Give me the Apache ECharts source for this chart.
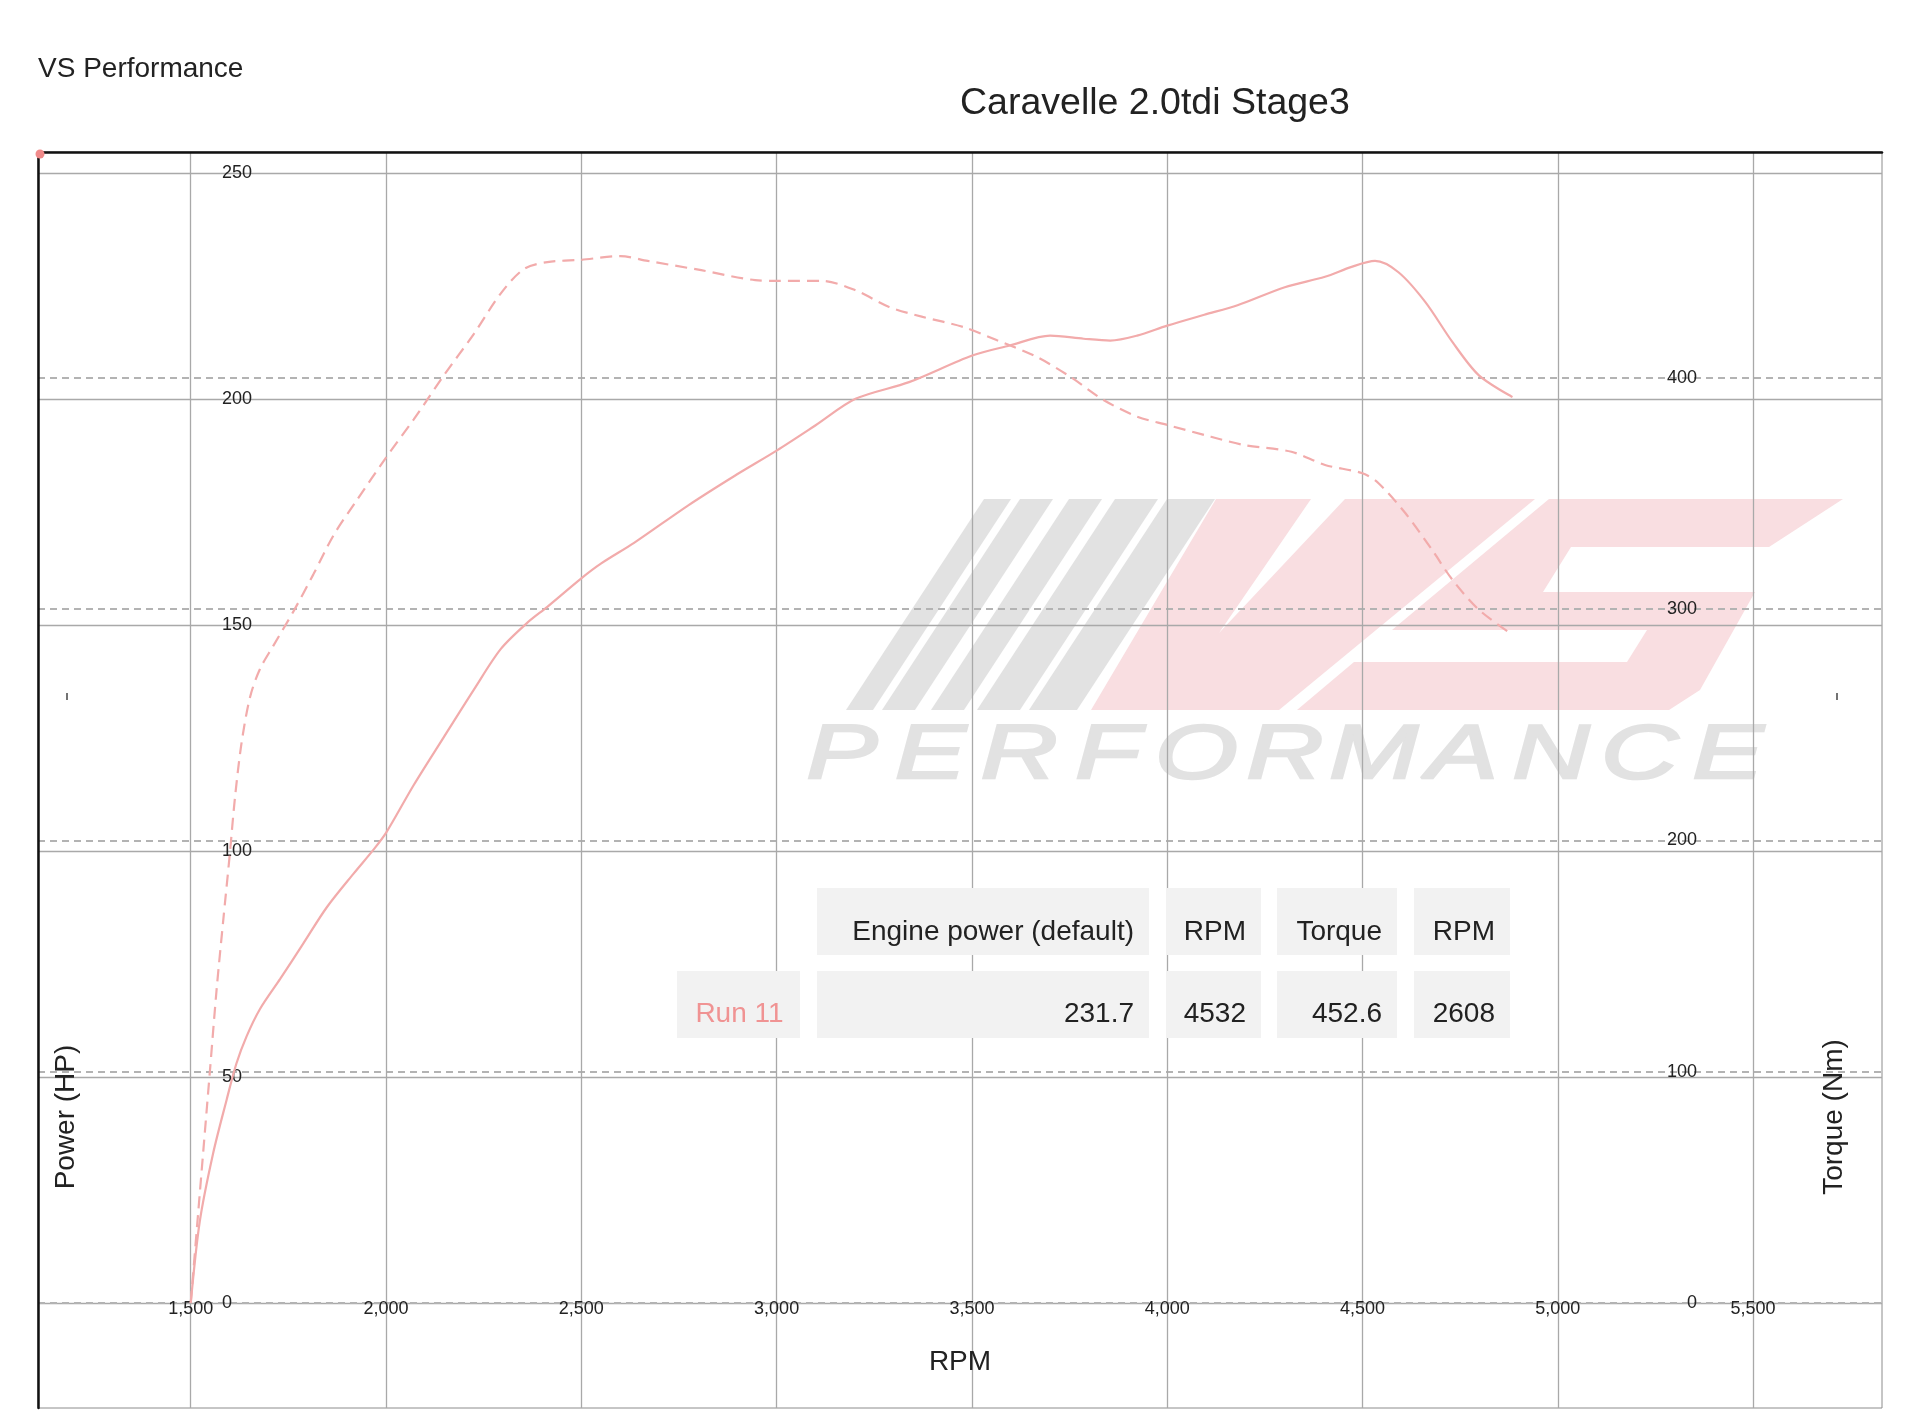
<!DOCTYPE html>
<html>
<head>
<meta charset="utf-8">
<script src="https://cdn.jsdelivr.net/npm/echarts@6/dist/echarts.min.js"></script>
<style>
html,body{margin:0;padding:0;background:#fff;}
#chart{width:1920px;height:1415px;}
</style>
</head>
<body>
<div id="chart"></div>
<script>
// ---------------- data ----------------
const brandTitle = 'VS Performance';
const chartTitle = 'Caravelle 2.0tdi Stage3';
const xAxisName = 'RPM';
const powerAxisName = 'Power (HP)';
const torqueAxisName = 'Torque (Nm)';

const rpmTicks = [1500, 2000, 2500, 3000, 3500, 4000, 4500, 5000, 5500];
const powerTicks = [0, 50, 100, 150, 200, 250];
const torqueTicks = [0, 100, 200, 300, 400];

const rpmRange = [1109, 5830];
const powerRange = [-23.2, 254.6];
const torqueRange = [-45.4, 497.6];

const powerRpm = [1500, 1523, 1557, 1592, 1617, 1643, 1677, 1729, 1788, 1848, 1917, 1968, 2000, 2071, 2148, 2225, 2294, 2362, 2413, 2500, 2551, 2636, 2773, 2893, 3001, 3099, 3202, 3339, 3501, 3597, 3700, 3786, 3854, 3923, 4000, 4095, 4180, 4301, 4404, 4472, 4532, 4592, 4661, 4730, 4798, 4884];
const powerHp  = [0, 18, 33, 45, 53, 59, 65, 71.7, 79.5, 87.5, 95, 100.3, 104, 114.6, 125.2, 135.7, 144.7, 150.5, 154, 160.3, 163.6, 168.2, 176.4, 183, 188.6, 194.1, 200, 203.7, 209.6, 211.8, 214, 213.3, 212.9, 214, 216.2, 218.6, 220.7, 224.7, 227, 229.2, 230.5, 228, 221.4, 212.6, 205.2, 200.4];

const torqueRpm = [1500, 1523, 1549, 1566, 1583, 1600, 1613, 1630, 1652, 1677, 1711, 1763, 1814, 1866, 1925, 2000, 2071, 2148, 2225, 2294, 2353, 2413, 2500, 2600, 2670, 2807, 2945, 3001, 3116, 3202, 3288, 3374, 3477, 3563, 3666, 3752, 3837, 3923, 4000, 4112, 4198, 4318, 4404, 4500, 4541, 4610, 4678, 4730, 4798, 4884];
const torqueNm  = [0, 47, 100, 135, 165, 194, 218, 242, 262, 274, 284, 299, 315, 332, 347, 365.5, 382, 401, 419, 436.5, 447, 450, 451, 452.6, 450.5, 446.5, 442.2, 441.9, 441.9, 437.8, 430.6, 426.3, 422, 416.3, 409, 400.4, 390.4, 383.2, 379.6, 374.5, 370.9, 368, 362.3, 358.7, 354.4, 341.4, 325.6, 312.7, 299.7, 288.9];

const tableHeaders = ['Engine power (default)', 'RPM', 'Torque', 'RPM'];
const runLabel = 'Run 11';
const runValues = ['231.7', '4532', '452.6', '2608'];

const watermarkWord = 'PERFORMANCE';

// ---------------- style / layout ----------------
const FONT = "'Liberation Sans', Arial, Helvetica, sans-serif";
const LINE = '#f2abab';
const RUN_TEXT = '#f09393';
const GRID_SOLID = '#a9a9a9';
const GRID_DASH = '#b3b3b3';
const CELL = '#f2f2f2';
const WM_GRAY = '#e2e2e2';
const WM_PINK = '#f9dee1';

const tableCols = [[817, 1149], [1167, 1261], [1277, 1397], [1414, 1510]];
const runCol = [677, 800];
const headerRow = [888, 955];
const valueRow = [971, 1038];

const graphics = [];

// watermark stripes
const stripeTops = [[984, 1011], [1020, 1053], [1069, 1102], [1115, 1158], [1167, 1215]];
const wmTop = 499, wmBottom = 710, stripeShift = 138;
stripeTops.forEach(function (s) {
  graphics.push({
    type: 'polygon', z: -5, silent: true,
    shape: { points: [[s[0], wmTop], [s[1], wmTop], [s[1] - stripeShift, wmBottom], [s[0] - stripeShift, wmBottom]] },
    style: { fill: WM_GRAY }
  });
});
// V
graphics.push({
  type: 'polygon', z: -5, silent: true,
  shape: { points: [[1216, 499], [1311, 499], [1219, 633], [1345, 499], [1535, 499], [1279, 710], [1091, 710]] },
  style: { fill: WM_PINK }
});
// S
graphics.push({
  type: 'polygon', z: -5, silent: true,
  shape: { points: [[1549, 499], [1843, 499], [1769, 547], [1571, 547], [1543, 592], [1755, 592], [1700, 690], [1669, 710], [1297, 710], [1354, 662], [1627, 662], [1647, 630], [1392, 630]] },
  style: { fill: WM_PINK }
});
// PERFORMANCE, letter by letter
watermarkWord.split('').forEach(function (ch, i) {
  graphics.push({
    type: 'text', z: -5, silent: true,
    x: 842 + i * 88.6, y: 757, scaleX: 1.4,
    style: { text: ch, font: 'italic 76px ' + FONT, fill: WM_GRAY, stroke: WM_GRAY, lineWidth: 2.5,
             align: 'center', textAlign: 'center', verticalAlign: 'middle', textVerticalAlign: 'middle' }
  });
});

// table
tableHeaders.forEach(function (h, i) {
  const c = tableCols[i];
  graphics.push({ type: 'rect', z: 20, shape: { x: c[0], y: headerRow[0], width: c[1] - c[0], height: headerRow[1] - headerRow[0] }, style: { fill: CELL } });
  graphics.push({ type: 'text', z: 21, x: c[1] - 15, y: headerRow[0] + 44,
    style: { text: h, font: '28px ' + FONT, fill: '#222', align: 'right', textAlign: 'right', verticalAlign: 'middle', textVerticalAlign: 'middle' } });
});
runValues.forEach(function (v, i) {
  const c = tableCols[i];
  graphics.push({ type: 'rect', z: 20, shape: { x: c[0], y: valueRow[0], width: c[1] - c[0], height: valueRow[1] - valueRow[0] }, style: { fill: CELL } });
  graphics.push({ type: 'text', z: 21, x: c[1] - 15, y: valueRow[0] + 43,
    style: { text: v, font: '28px ' + FONT, fill: '#222', align: 'right', textAlign: 'right', verticalAlign: 'middle', textVerticalAlign: 'middle' } });
});
graphics.push({ type: 'rect', z: 20, shape: { x: runCol[0], y: valueRow[0], width: runCol[1] - runCol[0], height: valueRow[1] - valueRow[0] }, style: { fill: CELL } });
graphics.push({ type: 'text', z: 21, x: (runCol[0] + runCol[1]) / 2 + 1, y: valueRow[0] + 43,
  style: { text: runLabel, font: '28px ' + FONT, fill: RUN_TEXT, align: 'center', textAlign: 'center', verticalAlign: 'middle', textVerticalAlign: 'middle' } });

// axis names
graphics.push({ type: 'text', z: 10, x: 960, y: 1362,
  style: { text: xAxisName, font: '28px ' + FONT, fill: '#222', align: 'center', textAlign: 'center', verticalAlign: 'middle', textVerticalAlign: 'middle' } });
graphics.push({ type: 'text', z: 10, x: 66, y: 1117, rotation: Math.PI / 2,
  style: { text: powerAxisName, font: '28px ' + FONT, fill: '#222', align: 'center', textAlign: 'center', verticalAlign: 'middle', textVerticalAlign: 'middle' } });
graphics.push({ type: 'text', z: 10, x: 1834, y: 1117, rotation: Math.PI / 2,
  style: { text: torqueAxisName, font: '28px ' + FONT, fill: '#222', align: 'center', textAlign: 'center', verticalAlign: 'middle', textVerticalAlign: 'middle' } });

// small marks
graphics.push({ type: 'line', z: 10, shape: { x1: 67, y1: 693, x2: 67, y2: 700 }, style: { stroke: '#444', lineWidth: 1.5 } });
graphics.push({ type: 'line', z: 10, shape: { x1: 1837, y1: 693, x2: 1837, y2: 700 }, style: { stroke: '#444', lineWidth: 1.5 } });
graphics.push({ type: 'circle', z: 10, shape: { cx: 40, cy: 154, r: 4.5 }, style: { fill: '#f08a8a' } });

const chart = echarts.init(document.getElementById('chart'), null, { renderer: 'canvas' });
chart.setOption({
  animation: false,
  backgroundColor: '#ffffff',
  textStyle: { fontFamily: FONT },
  title: [
    { text: brandTitle, left: 38, top: 55, padding: 0,
      textStyle: { fontSize: 28, fontWeight: 'normal', color: '#222', fontFamily: FONT } },
    { text: chartTitle, left: 960, top: 85, padding: 0,
      textStyle: { fontSize: 37.5, fontWeight: 'normal', color: '#222', fontFamily: FONT } }
  ],
  grid: { left: 38, right: 38, top: 152, bottom: 7, show: true, borderColor: '#8c8c8c', borderWidth: 1,
          containLabel: false, outerBoundsMode: 'none' },
  xAxis: [
    { type: 'value', min: rpmRange[0], max: rpmRange[1], position: 'bottom', offset: -105,
      axisLine: { show: false, onZero: false },
      axisTick: { show: false, customValues: rpmTicks },
      axisLabel: { customValues: rpmTicks, formatter: function (v) { return v.toLocaleString('en-US'); },
                   fontSize: 18, color: '#222', margin: -3, fontFamily: FONT },
      splitLine: { show: true, lineStyle: { color: GRID_SOLID, width: 1.3 } } },
    { type: 'value', min: rpmRange[0], max: rpmRange[1], position: 'top',
      axisLine: { show: true, onZero: false, lineStyle: { color: '#111', width: 2.5 } },
      axisTick: { show: false }, axisLabel: { show: false }, splitLine: { show: false } }
  ],
  yAxis: [
    { type: 'value', min: powerRange[0], max: powerRange[1], position: 'left',
      axisLine: { show: true, onZero: false, lineStyle: { color: '#111', width: 2.5 } },
      axisTick: { show: false, customValues: powerTicks },
      axisLabel: { inside: true, margin: 184, customValues: powerTicks, fontSize: 18, color: '#222', fontFamily: FONT },
      splitLine: { show: true, lineStyle: { color: GRID_SOLID, width: 1.3 } } },
    { type: 'value', min: torqueRange[0], max: torqueRange[1], position: 'right',
      axisLine: { show: false, onZero: false },
      axisTick: { show: false, customValues: torqueTicks },
      axisLabel: { inside: true, margin: 185, customValues: torqueTicks, fontSize: 18, color: '#222', fontFamily: FONT },
      splitLine: { show: true, lineStyle: { color: GRID_DASH, width: 2, type: [7, 5] } } }
  ],
  series: [
    { name: 'Power', type: 'line', xAxisIndex: 0, yAxisIndex: 0, z: 5,
      data: powerRpm.map(function (r, i) { return [r, powerHp[i]]; }),
      symbol: 'none', showSymbol: false, smooth: 0.3,
      lineStyle: { color: LINE, width: 2.2 } },
    { name: 'Torque', type: 'line', xAxisIndex: 0, yAxisIndex: 1, z: 5,
      data: torqueRpm.map(function (r, i) { return [r, torqueNm[i]]; }),
      symbol: 'none', showSymbol: false, smooth: 0.3,
      lineStyle: { color: LINE, width: 2.2, type: [12, 7] } }
  ],
  graphic: { elements: graphics }
});
</script>
</body>
</html>
